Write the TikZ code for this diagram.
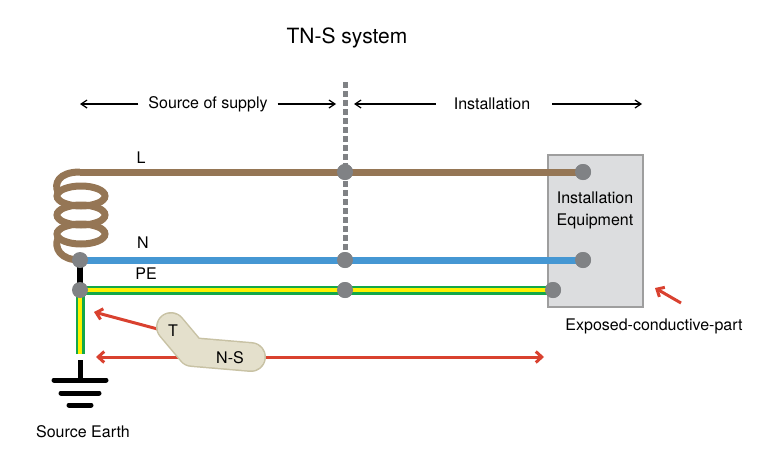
\documentclass[tikz,border=0pt]{standalone}
\usepackage{fontspec}
\setmainfont{TeX Gyre Heros}
\usetikzlibrary{arrows.meta}
\definecolor{brn}{HTML}{957655}
\definecolor{blu}{HTML}{4597D3}
\definecolor{grn}{HTML}{13A84A}
\definecolor{yel}{HTML}{FFF100}
\definecolor{dotc}{HTML}{808285}
\definecolor{redc}{HTML}{D9412F}
\definecolor{boxf}{HTML}{DCDDDF}
\definecolor{blobf}{HTML}{E4E0CC}
\definecolor{blobb}{HTML}{C8C2A4}
\begin{document}
\begin{tikzpicture}[x=1pt,y=-1pt,
  lbl/.style={font=\fontsize{16}{19}\selectfont,inner sep=0pt},
  dot/.style={circle,fill=dotc,minimum size=16pt,inner sep=0pt},
  dim/.style={-{Straight Barb[length=6pt,width=8pt]},line width=1.2pt},
  red/.style={draw=redc,line width=3pt,-{Straight Barb[length=6pt,width=11pt]}},
  brw/.style={draw=brn,line width=7pt}]
\useasboundingbox (0,0) rectangle (768,450);
\node[font=\fontsize{21}{24}\selectfont] (title) at (347,38) {TN-S system};
% dimension arrows
\node[lbl] (src) at (208,104) {Source of supply};
\node[lbl] (ins) at (492,104) {Installation};
\coordinate (d1) at (80,104); \coordinate (d2) at (336,104);
\coordinate (d3) at (354,104); \coordinate (d4) at (642,104);
\draw[dim] (src.west)++(-10,0) -- (d1);
\draw[dim] (src.east)++(10,0) -- (d2);
\draw[dim] (ins.west)++(-18,0) -- (d3);
\draw[dim] (ins.east)++(22,0) -- (d4);
% box
\node[draw=black!38,line width=2pt,fill=boxf,minimum width=95pt,minimum height=152pt,inner sep=0pt] (box) at (595.5,231) {};
\node[lbl,align=center] (eq) at (595,210) {Installation\\[3pt]Equipment};
% dashed
\coordinate (v1) at (345,82); \coordinate (v2) at (345,258);
\draw[dotc,line width=5pt,dash pattern=on 6pt off 3pt] (v1) -- (v2);
% coordinates
\coordinate (lS) at (80,172); \coordinate (nS) at (80,260); \coordinate (pS) at (80,289);
\coordinate (eB) at (80,354);
% coil
\foreach \y in {196,215,234}{\draw[brw] (81,\y) ellipse [x radius=24,y radius=10];}
\draw[brw] (lS) .. controls (58,172) and (54,184) .. (58,192);
\draw[brw] (nS) .. controls (60,260) and (54,248) .. (58,238);
% wires
\node[dot] (lM) at (345,172) {}; \node[dot] (nM) at (345,260) {}; \node[dot] (pM) at (345,290) {};
\node[dot] (lE) at (583,172) {}; \node[dot] (nE) at (583,260) {}; \node[dot] (pE) at (553,290) {};
\draw[brw] (lS) -- (lM.center) -- (lE.center);
\draw[blu,line width=7pt] (nS) -- (nM.center) -- (nE.center);
\draw[black,line width=6pt] (nS) -- (pS);
\draw[grn,line width=9pt] (eB) -- (80,290) -- (pM.center) -- (pE.center);
\draw[yel,line width=3.5pt] (eB) -- (80,290) -- (pM.center) -- (pE.center);
\foreach \n in {lM,nM,pM,lE,nE,pE}{\fill[dotc] (\n) circle (8);}
\node[dot] (nL) at (nS) {}; \node[dot] (pL) at (80,290) {};
% labels
\node[lbl] (L) at (141,158) {L};
\node[lbl] (N) at (143,243) {N};
\node[lbl] (PE) at (146,274) {PE};
% earth
\coordinate (g0) at (80,360); \coordinate (g1) at (80,380);
\draw[black,line width=5pt] (g0) -- (g1);
\draw[black,line width=5pt,line cap=round] (54,380) -- (106,380);
\draw[black,line width=5pt,line cap=round] (61,393) -- (99,393);
\draw[black,line width=5pt,line cap=round] (69,405) -- (91,405);
\node[lbl] (se) at (83,432) {Source Earth};
% exposed part
\node[lbl] (ecp) at (654,326) {Exposed-conductive-part};
\coordinate (ea1) at (681,303); \coordinate (ea2) at (655,288);
\draw[red] (ea1) -- (ea2);
% red arrows
\coordinate (ta) at (94,312); \coordinate (na1) at (96,357); \coordinate (na2) at (544,357);
\coordinate (tT) at (165,331);
\draw[red] (tT) -- (ta);
\draw[red,{Straight Barb[length=6pt,width=11pt]}-{Straight Barb[length=6pt,width=11pt]}] (na1) -- (na2);
% blob
\draw[blobb,line width=30pt,line cap=round,line join=round] (171,327) -- (192,352) -- (251,357);
\draw[blobf,line width=27pt,line cap=round,line join=round] (171,327) -- (192,352) -- (251,357);
\node[lbl] (T) at (173,331) {T};
\node[lbl] (NS) at (230,358) {N-S};
\end{tikzpicture}
\end{document}
